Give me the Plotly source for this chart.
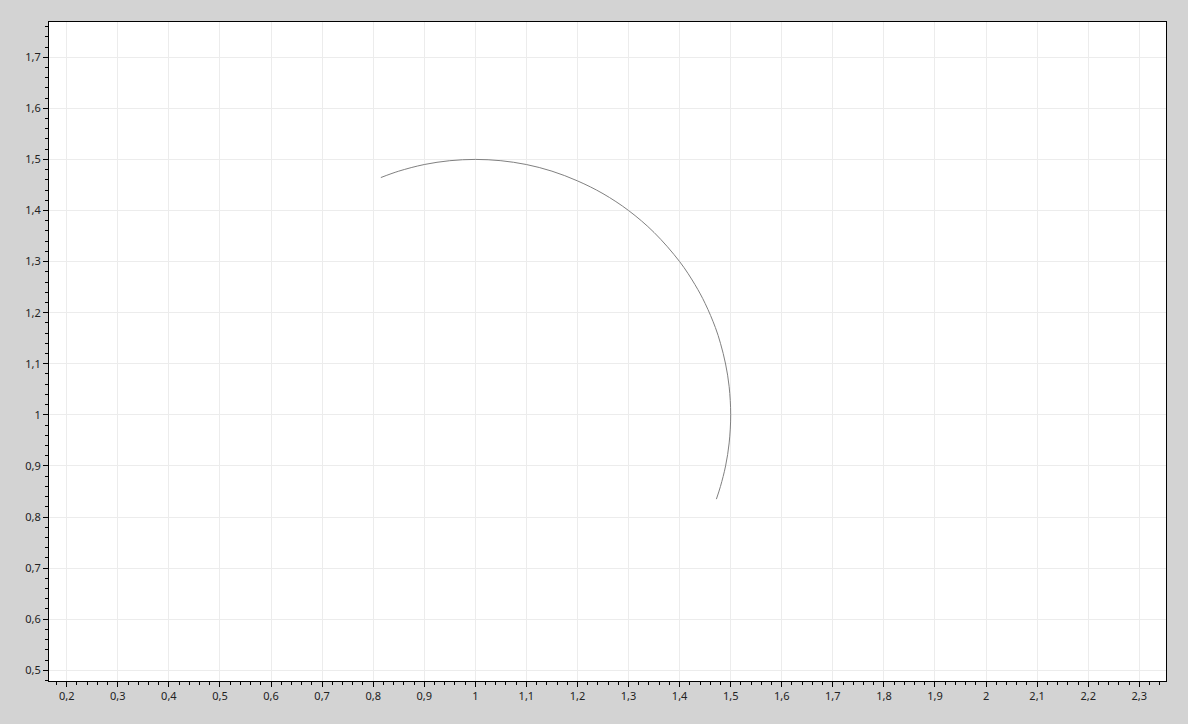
import plotly.graph_objects as go

# Arc points
arc_x = [0.815, 0.85, 0.9, 0.95, 1.0, 1.05, 1.1, 1.15, 1.2, 1.25, 1.3, 1.35, 1.4,
         1.43, 1.45, 1.47, 1.48, 1.49, 1.497, 1.5, 1.497, 1.49, 1.48, 1.472]
arc_y = [1.4645, 1.477, 1.490, 1.4975, 1.5, 1.4975, 1.490, 1.477, 1.458, 1.433, 1.400, 1.357, 1.300,
         1.255, 1.218, 1.171, 1.140, 1.0995, 1.055, 1.0, 0.945, 0.90, 0.86, 0.835]

x_range = [0.1653, 2.3523]
y_range = [0.479, 1.769]

fig = go.Figure()
fig.add_trace(go.Scatter(
    x=arc_x, y=arc_y, mode="lines",
    line=dict(color="#808080", width=1, shape="spline", smoothing=1.0),
    hoverinfo="skip", showlegend=False,
))

axis_common = dict(
    showline=True, linecolor="black", linewidth=1, mirror=True,
    showgrid=True, gridcolor="#ececec", gridwidth=1,
    zeroline=False,
    ticks="outside", ticklen=5, tickwidth=1, tickcolor="black",
    tick0=0, dtick=0.1,
    tickfont=dict(family="Noto Sans", size=11, color="#222222"),
    minor=dict(ticks="outside", ticklen=3, tickwidth=1, tickcolor="black",
               dtick=0.02, showgrid=False),
)

fig.update_xaxes(range=x_range, **axis_common)
fig.update_yaxes(range=y_range, **axis_common)

fig.update_layout(
    width=1188, height=724,
    margin=dict(l=49, r=22, t=22, b=43),
    paper_bgcolor="#d3d3d3",
    plot_bgcolor="white",
    separators=", ",
    showlegend=False,
)

fig.write_html(
    "out.html",
    config={"displayModeBar": False},
    post_script="document.body.style.margin='0';document.body.style.padding='0';"
                "document.body.style.background='#d3d3d3';document.body.style.overflow='hidden';",
)
